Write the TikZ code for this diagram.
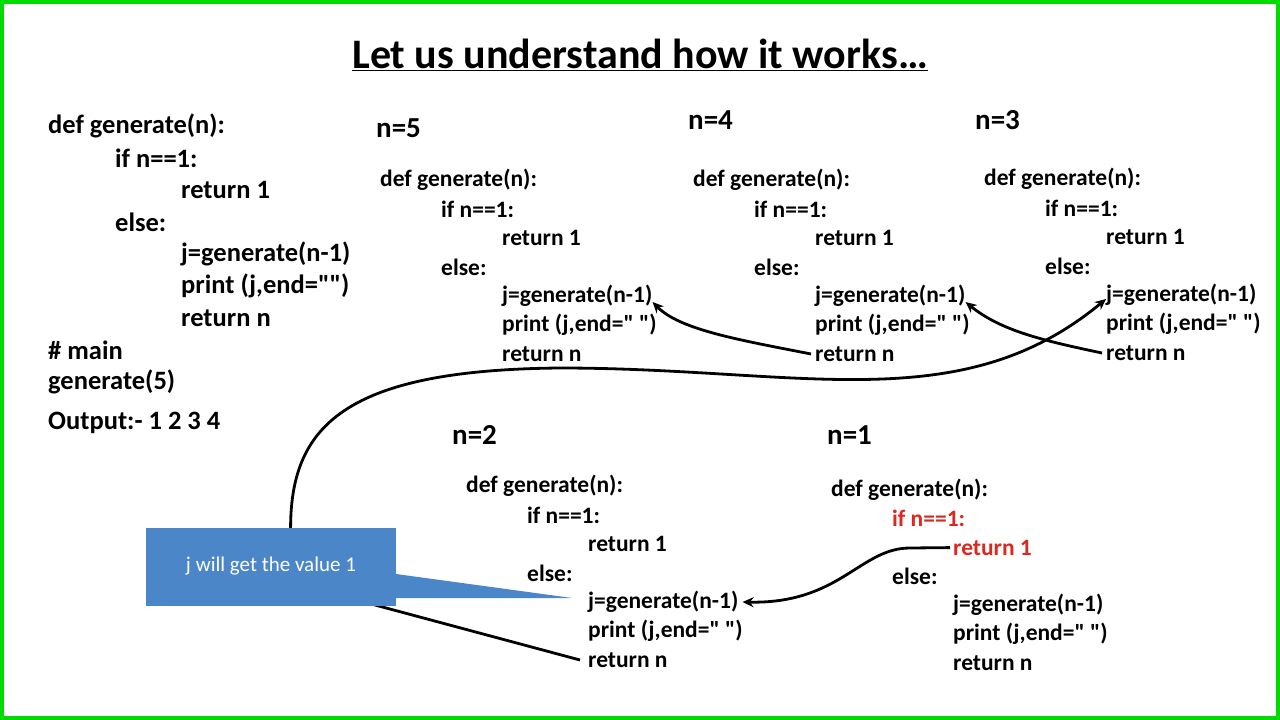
\documentclass[tikz,border=0pt]{standalone}
\usepackage{fontspec}
\setmainfont{Carlito}[Ligatures=TeXOff]
\usetikzlibrary{arrows.meta}
\definecolor{grn}{RGB}{0,220,0}
\definecolor{callout}{RGB}{74,134,200}
\definecolor{rd}{RGB}{220,40,30}
\newcommand\cblock[6]{%
 \node[code,anchor=west] (#1d) at (#2,#3) {def generate(n):};
 \node[code,anchor=west,text=#6] (#1i) at ({#2+#5},{#3+#4}) {if n==1:};
 \node[code,anchor=west,text=#6] (#1o) at ({#2+2*#5},{#3+2*#4}) {return 1};
 \node[code,anchor=west] (#1e) at ({#2+#5},{#3+3*#4}) {else:};
 \node[code,anchor=west] (#1j) at ({#2+2*#5},{#3+4*#4}) {j=generate(n-1)};
 \node[code,anchor=west] (#1p) at ({#2+2*#5},{#3+5*#4}) {print (j,end=" ")};
 \node[code,anchor=west] (#1r) at ({#2+2*#5},{#3+6*#4}) {return n};}
\begin{document}
\begin{tikzpicture}[x=1pt,y=-1pt,
 code/.style={inner sep=0pt,font=\fontsize{23.5}{23.5}\selectfont\bfseries},
 big/.style={inner sep=0pt,anchor=west,font=\fontsize{26.5}{26.5}\selectfont\bfseries},
 head/.style={inner sep=0pt,anchor=west,font=\fontsize{29}{29}\selectfont\bfseries},
 arr/.style={line width=2.8pt,-{Stealth[length=11pt,width=10pt]}}]
\useasboundingbox (0,0) rectangle (1280,720);
\fill[white] (0,0) rectangle (1280,720);
\draw[grn,line width=4pt] (2,2) rectangle (1278,718);
% title
\node[inner sep=0pt,font=\fontsize{42}{42}\selectfont\bfseries] (title) at (640,55) {\underline{Let us understand how it works…}};
% left code
\node[big] (ld) at (48,126) {def generate(n):};
\node[big] (li) at (115,158) {if n==1:};
\node[big] (lo) at (181,190) {return 1};
\node[big] (le) at (115,222) {else:};
\node[big] (lj) at (181,254) {j=generate(n-1)};
\node[big] (lp) at (181,286) {print (j,end="")};
\node[big] (lr) at (181,318) {return n};
\node[big] (lm) at (48,350) {\# main};
\node[big] (lg) at (48,382) {generate(5)};
\node[big] (lout) at (48,423) {Output:- 1 2 3 4};
% headings
\node[head] (h5) at (376,128) {n=5};
\node[head] (h4) at (688,120) {n=4};
\node[head] (h3) at (975,120) {n=3};
\node[head] (h2) at (452,435) {n=2};
\node[head] (h1) at (827,435) {n=1};
% blocks
\cblock{a}{380}{180}{29}{61}{black}
\cblock{b}{693}{180}{29}{61}{black}
\cblock{c}{984}{179}{29}{61}{black}
\cblock{d}{466}{486}{29}{61}{black}
\cblock{e}{831}{490}{28.8}{61}{rd}
% arrows
\draw[arr] ([xshift=-4pt]br.west) .. controls (740,340) and (680,330) .. ([yshift=-6pt]aj.east);
\draw[arr] ([xshift=-4pt]cr.west) .. controls (1040,340) and (1000,330) .. ([yshift=-6pt]bj.east);
\draw[arr] ([xshift=-3pt]eo.west) -- (910,548) .. controls (860,548) and (840,604) .. ([xshift=4pt]dj.east);
\draw[arr] ([xshift=-8pt]dr.west) -- (375,605) -- (292,560) .. controls (282,440) and (320,370) .. (560,368)
  .. controls (800,368) and (960,420) .. ([yshift=-4pt]cj.west);
% callout
\fill[callout] (146,528) rectangle (396,606);
\fill[callout] (396,574) -- (572,598) -- (396,598) -- cycle;
\node[inner sep=0pt,text=white,font=\fontsize{21}{21}\selectfont] (co) at (271,566) {j will get the value 1};
\end{tikzpicture}
\end{document}
